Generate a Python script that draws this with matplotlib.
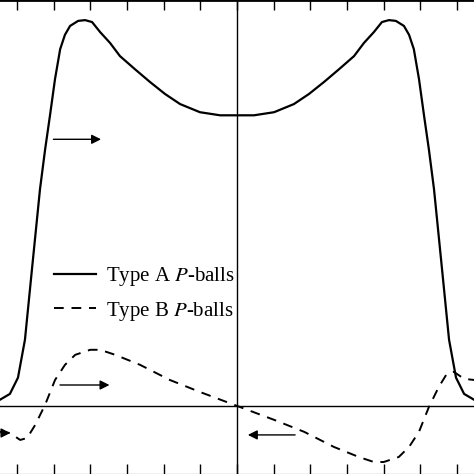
import numpy as np
import matplotlib

matplotlib.use("Agg")
import matplotlib.pyplot as plt

# x in tick units (0 = centre), y normalised to peak of type A
solid_x = [-6.46, -6.19, -5.97, -5.78, -5.59, -5.37, -5.23, -5.10, -4.96, -4.82, -4.69, -4.55,
           -4.33, -4.14, -3.95, -3.73, -3.46, -3.19, -2.78, -2.37, -1.96, -1.55, -1.01, -0.46, 0.0]
solid_y = [0.016, 0.031, 0.073, 0.171, 0.352, 0.560, 0.663, 0.749, 0.845, 0.922, 0.959, 0.982,
           0.995, 0.997, 0.992, 0.966, 0.938, 0.904, 0.870, 0.837, 0.806, 0.780, 0.759, 0.751, 0.751]
dash_x = [-6.46, -6.19, -5.91, -5.72, -5.50, -5.23, -4.96, -4.69, -4.41, -4.00, -3.73,
          -3.32, -2.64, -1.83, -1.01, 0.0]
dash_y = [-0.067, -0.070, -0.088, -0.083, -0.049, 0.003, 0.067, 0.106, 0.132, 0.145, 0.145,
          0.132, 0.106, 0.067, 0.036, 0.0]

# arrows: (x_start, x_end, y)
arrows = [(-5.08, -3.63, 0.689), (5.12, 6.5, 0.689), (-4.90, -3.40, 0.054),
          (1.66, 0.22, -0.075), (6.2, 6.5, 0.059), (-6.5, -6.1, -0.070)]

sx = np.array(solid_x)
sy = np.array(solid_y)
full_sx = np.concatenate([sx, -sx[::-1][1:]])
full_sy = np.concatenate([sy, sy[::-1][1:]])
dx = np.array(dash_x)
dy = np.array(dash_y)
full_dx = np.concatenate([dx, -dx[::-1][1:]])
full_dy = np.concatenate([dy, -dy[::-1][1:]])

plt.rcParams["font.family"] = ["Liberation Serif", "DejaVu Serif"]
plt.rcParams["mathtext.fontset"] = "stix"

fig = plt.figure(figsize=(4.74, 4.74), dpi=100)
ax = fig.add_axes([0, 0, 1, 1])
ax.set_xlim(-6.46, 6.46)
ax.set_ylim(-0.176, 1.049)

ax.plot(full_sx, full_sy, color="black", lw=1.6, label="Type A $P$-balls")
ax.plot(full_dx, full_dy, color="black", lw=1.4, ls=(0, (5, 4)), label="Type B $P$-balls")
ax.axhline(0, color="black", lw=1.0)
ax.axvline(0, color="black", lw=1.0)

for x0, x1, y in arrows:
    ax.annotate("", xy=(x1, y), xytext=(x0, y),
                arrowprops=dict(arrowstyle="-|>", color="black", lw=1.0, mutation_scale=14))

ax.set_xticks(np.arange(-6, 7, 1))
ax.set_yticks([])
ax.tick_params(axis="x", direction="in", top=True, bottom=True, length=7, width=1,
               labelbottom=False)
ax.spines["left"].set_visible(False)
ax.spines["right"].set_visible(False)
ax.spines["top"].set_linewidth(2)

ax.legend(loc="upper left", bbox_to_anchor=(0.075, 0.48), frameon=False, fontsize=15,
          handlelength=2.0, labelspacing=0.55, handletextpad=0.5)

fig.savefig("out.png", dpi=100)
